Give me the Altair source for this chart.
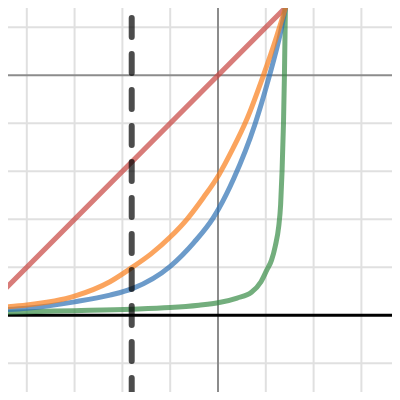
import altair as alt
import pandas as pd

# ---- data (graph units: one grid square = 1) ----
red_x = [0.0, 6.41]
red_y = [0.0, 6.41]

blue_x = [0.44, 1.0, 2.0, 2.74, 3.22, 4.0, 4.5, 4.9, 5.02, 5.33, 5.77, 6.05, 6.31, 6.41]
blue_y = [0.11, 0.146, 0.28, 0.42, 0.56, 1.02, 1.52, 2.03, 2.23, 2.85, 3.97, 4.9, 5.9, 6.40]

orange_x = [0.44, 1.0, 2.0, 2.74, 3.22, 3.6, 4.0, 4.35, 4.7, 5.02, 5.3, 5.61, 5.95, 6.23, 6.41]
orange_y = [0.167, 0.215, 0.40, 0.70, 1.01, 1.28, 1.63, 2.0, 2.46, 2.93, 3.45, 4.1, 5.0, 5.82, 6.40]

green_x = [0.44, 1.0, 2.0, 3.2, 4.0, 4.6, 5.0, 5.4, 5.7, 5.9, 6.02, 6.12, 6.2, 6.27, 6.31, 6.34, 6.37, 6.39, 6.41]
green_y = [0.06, 0.075, 0.096, 0.125, 0.16, 0.21, 0.26, 0.36, 0.48, 0.70, 0.94, 1.15, 1.45, 1.85, 2.3, 3.0, 4.0, 5.0, 6.40]

dash_x = [3.195]

minor_x = [1, 2, 3, 4, 6, 7, 8]
major_x = [5]
minor_y = [-1, 1, 2, 3, 4, 6]
major_y = [5]
axis_y = [0]

X_DOMAIN = [0.607, 8.640]
Y_DOMAIN = [-1.598, 6.402]

xs = alt.Scale(domain=X_DOMAIN, nice=False, zero=False)
ys = alt.Scale(domain=Y_DOMAIN, nice=False, zero=False)


def vrules(vals, color, width):
    return alt.Chart(pd.DataFrame({"x": vals})).mark_rule(
        color=color, strokeWidth=width
    ).encode(x=alt.X("x:Q", scale=xs, axis=None))


def hrules(vals, color, width):
    return alt.Chart(pd.DataFrame({"y": vals})).mark_rule(
        color=color, strokeWidth=width
    ).encode(y=alt.Y("y:Q", scale=ys, axis=None))


def curve(xv, yv, color):
    df = pd.DataFrame({"x": xv, "y": yv, "o": list(range(len(xv)))})
    return alt.Chart(df).mark_line(
        color=color, strokeWidth=5, opacity=0.7, interpolate="monotone",
        strokeCap="round", strokeJoin="round", clip=True
    ).encode(
        x=alt.X("x:Q", scale=xs, axis=None),
        y=alt.Y("y:Q", scale=ys, axis=None),
        order="o:Q",
    )


grid = alt.layer(
    vrules(minor_x, "#e0e0e0", 2),
    hrules(minor_y, "#e0e0e0", 2),
    vrules(major_x, "#8c8c8c", 2),
    hrules(major_y, "#8c8c8c", 2),
    hrules(axis_y, "#000000", 3),
)

dashed = alt.Chart(pd.DataFrame({"x": dash_x})).mark_rule(
    color="#000000", opacity=0.7, strokeWidth=6, strokeCap="round",
    strokeDash=[19, 17], strokeDashOffset=26
).encode(x=alt.X("x:Q", scale=xs, axis=None))

chart = alt.layer(
    grid,
    curve(red_x, red_y, "#c74440"),
    curve(green_x, green_y, "#388c46"),
    curve(blue_x, blue_y, "#2d70b3"),
    curve(orange_x, orange_y, "#fa7e19"),
    dashed,
).properties(
    width=384, height=384, padding=0,
    autosize=alt.AutoSizeParams(type="none"),
).configure_view(strokeWidth=0)

chart.save("out.html", embed_options={"renderer": "svg", "actions": False})
